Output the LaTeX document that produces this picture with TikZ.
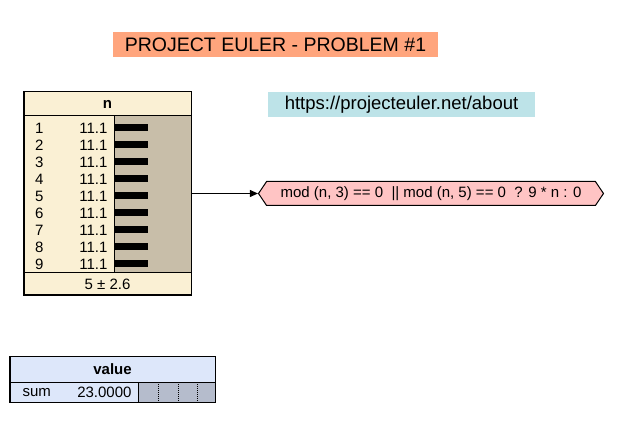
\documentclass[tikz,border=0pt]{standalone}
\usepackage{fontspec}
\setmainfont{Liberation Sans}
\usetikzlibrary{shapes.symbols,arrows.meta}
\definecolor{titlec}{HTML}{FFA57D}
\definecolor{urlc}{HTML}{BDE3E8}
\definecolor{tabc}{HTML}{FAF0D4}
\definecolor{grayc}{HTML}{C8BEA9}
\definecolor{hexc}{HTML}{FFC4C4}
\definecolor{valc}{HTML}{DDE7FA}
\definecolor{vgray}{HTML}{B5BCCC}
\begin{document}
\begin{tikzpicture}[x=1pt,y=-1pt, line width=1pt,
  txt/.style={font=\fontsize{15}{17}\selectfont, inner sep=0pt},
  bar/.style={fill=black},
  lbl/.style={txt, anchor=west},
  num/.style={txt, anchor=east}]
\useasboundingbox (0,0) rectangle (624,430);
% title
\node[fill=titlec, minimum width=325, minimum height=25, inner sep=0pt,
  font=\fontsize{19.5}{22}\selectfont] (title) at (275.5,44.5) {PROJECT EULER - PROBLEM \#1};
% url
\node[fill=urlc, minimum width=267, minimum height=25, inner sep=0pt,
  font=\fontsize{18.5}{21}\selectfont] (url) at (401.5,104.5) {https://projecteuler.net/about};
% n table
\node[draw, fill=tabc, minimum width=167, minimum height=203, inner sep=0pt] (nt) at (107.5,193.5) {};
\fill[grayc] (114,116) rectangle (191,273);
\draw (24,116) -- (191,116);
\draw (24,273) -- (191,273);
\draw (114,116) -- (114,273);
\draw (nt.north west) rectangle (nt.south east);
\node[txt, font=\bfseries\fontsize{15}{17}\selectfont] (nh) at (107.5,104) {n};
\node[txt] (nf) at (107.5,284) {5 ± 2.6};
\foreach \i in {1,...,9} {
  \pgfmathsetmacro{\yy}{128+(\i-1)*17}
  \node[lbl] (r\i) at (34.5,\yy) {\i};
  \node[num] (v\i) at (108,\yy) {11.1};
  \fill[bar] (115,\yy-3.5) rectangle (148,\yy+3.5);
}
% hexagon
\node[signal, signal to=west and east, signal pointer angle=112, draw, fill=hexc,
  minimum width=345, minimum height=24, inner sep=0pt, txt] (hex) at (431,193.5)
  {mod (n, 3) == 0 \ || mod (n, 5) == 0 \ ? 9 * n : 0};
\draw[-{Triangle[length=8pt,width=7pt]}] (nt.east) -- (hex.west);
% value table
\node[draw, fill=valc, minimum width=205, minimum height=45, inner sep=0pt] (vt) at (112.5,379.5) {};
\fill[vgray] (138,382) rectangle (215,402);
\draw (10,382) -- (215,382);
\draw (138,382) -- (138,402);
\foreach \x in {158,178,197} \draw[densely dotted] (\x,382) -- (\x,402);
\draw (vt.north west) rectangle (vt.south east);
\node[txt, font=\bfseries\fontsize{15}{17}\selectfont] (vh) at (112.5,369.5) {value};
\node[lbl] (sl) at (22,392.5) {sum};
\node[num] (sv) at (132,392.5) {23.0000};
\end{tikzpicture}
\end{document}
